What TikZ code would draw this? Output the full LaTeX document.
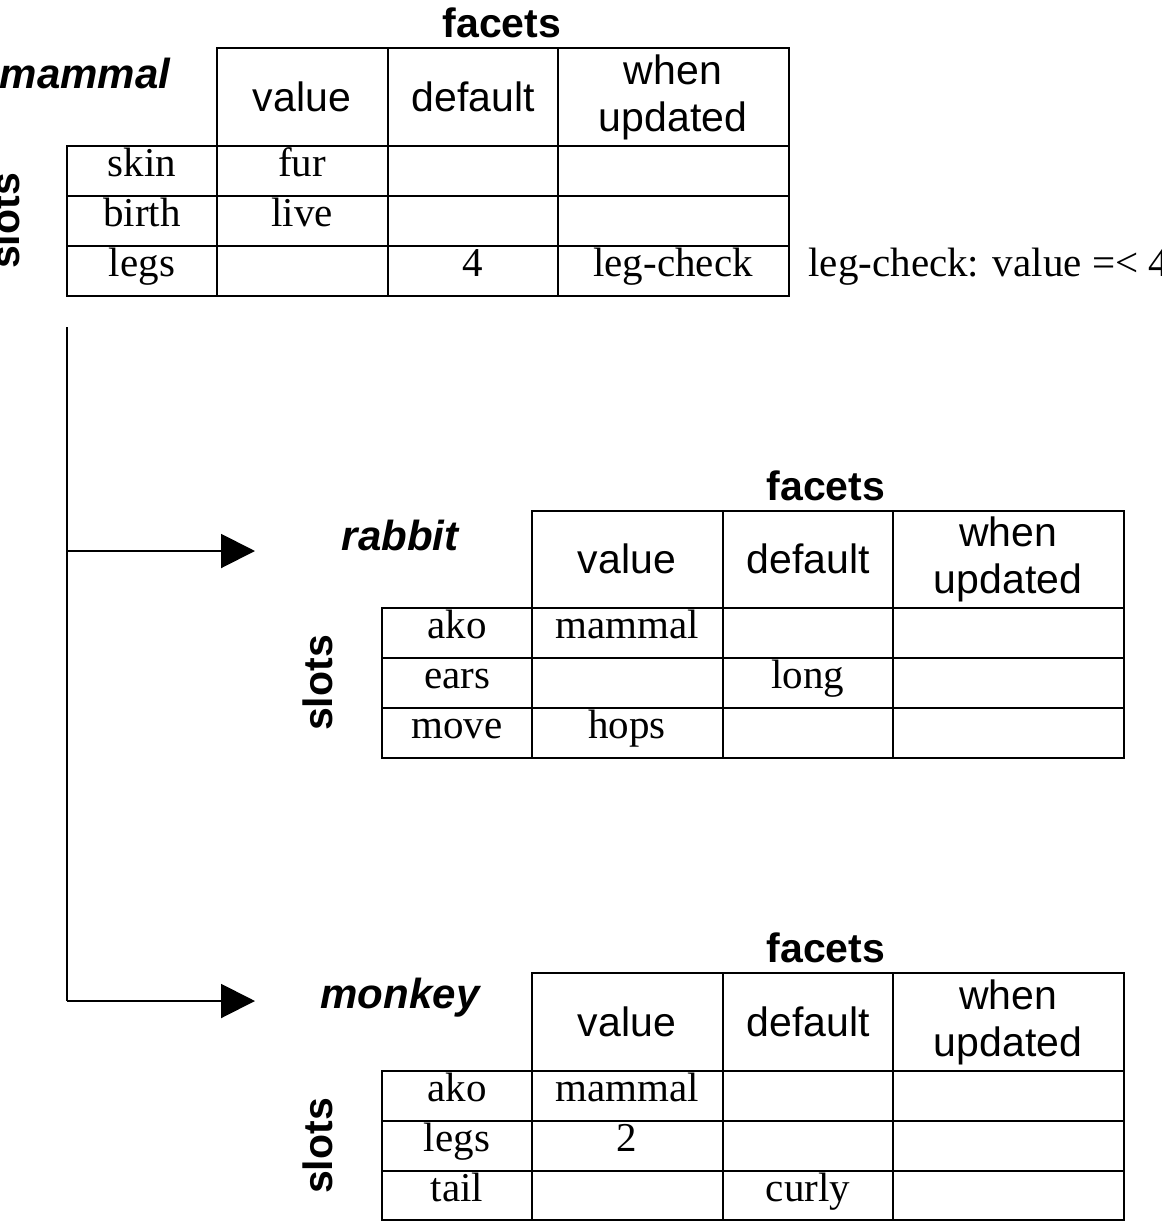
\documentclass[tikz,border=0pt]{standalone}
\usepackage{fontspec}
\setmainfont{Liberation Serif}
\setsansfont{Liberation Sans}
\usetikzlibrary{arrows.meta}
\tikzset{
  sf/.style={font=\sffamily\fontsize{41}{47}\selectfont, align=center},
  sfb/.style={font=\sffamily\bfseries\fontsize{41}{44}\selectfont},
  sfbi/.style={font=\sffamily\bfseries\itshape\fontsize{42}{44}\selectfont},
  rm/.style={font=\fontsize{41}{44}\selectfont, text height=24pt, text depth=13pt},
  grid/.style={line width=1.5pt},
  conn/.style={line width=2pt, -{Triangle[length=34pt,width=34pt]}},
  connl/.style={line width=2pt}
}
\begin{document}
\begin{tikzpicture}[x=1pt,y=-1pt]
\useasboundingbox (0,0) rectangle (1162,1221);
\clip (0,0) rectangle (1162,1221);
% ---------- mammal
\draw[grid] (217,48) rectangle (789,146);
\draw[grid] (388,48) -- (388,296) (558,48) -- (558,296);
\draw[grid] (67,146) rectangle (789,296);
\draw[grid] (217,146) -- (217,296);
\draw[grid] (67,196) -- (789,196) (67,246) -- (789,246);
\node[sfb] (mf) at (502,23) {facets};
\node[sfbi] (mn) at (85,73) {mammal};
\node[sfb,rotate=90] (ms) at (5,221) {slots};
\node[sf] at (302,97) {value};
\node[sf] at (473,97) {default};
\node[sf] at (673,97) {when\\updated};
\node[rm] at (142,171) {skin}; \node[rm] at (302,171) {fur};
\node[rm] at (142,221) {birth}; \node[rm] at (302,221) {live};
\node[rm] at (142,271) {legs}; \node[rm] at (473,271) {4}; \node[rm] at (673,271) {leg-check};
\node[rm,anchor=west] at (805,271) {leg-check: value =< 4};
% ---------- rabbit
\draw[grid] (532,511) rectangle (1124,608);
\draw[grid] (723,511) -- (723,758) (893,511) -- (893,758);
\draw[grid] (382,608) rectangle (1124,758);
\draw[grid] (532,608) -- (532,758);
\draw[grid] (382,658) -- (1124,658) (382,708) -- (1124,708);
\node[sfb] at (826,486) {facets};
\node[sfbi] (rn) at (400,535) {rabbit};
\node[sfb,rotate=90] at (318,683) {slots};
\node[sf] at (627,559) {value};
\node[sf] at (808,559) {default};
\node[sf] at (1008,559) {when\\updated};
\node[rm] at (457,633) {ako}; \node[rm] at (627,633) {mammal};
\node[rm] at (457,683) {ears}; \node[rm] at (808,683) {long};
\node[rm] at (457,733) {move}; \node[rm] at (627,733) {hops};
% ---------- monkey
\draw[grid] (532,973) rectangle (1124,1071);
\draw[grid] (723,973) -- (723,1220) (893,973) -- (893,1220);
\draw[grid] (382,1071) rectangle (1124,1220);
\draw[grid] (532,1071) -- (532,1220);
\draw[grid] (382,1121) -- (1124,1121) (382,1171) -- (1124,1171);
\node[sfb] at (826,948) {facets};
\node[sfbi] (kn) at (400,998) {monkey};
\node[sfb,rotate=90] at (318,1146) {slots};
\node[sf] at (627,1022) {value};
\node[sf] at (808,1022) {default};
\node[sf] at (1008,1022) {when\\updated};
\node[rm] at (457,1096) {ako}; \node[rm] at (627,1096) {mammal};
\node[rm] at (457,1146) {legs}; \node[rm] at (627,1146) {2};
\node[rm] at (457,1196) {tail}; \node[rm] at (808,1196) {curly};
% ---------- connectors
\coordinate (top) at (67,327);
\coordinate (j1) at (67,551);
\coordinate (j2) at (67,1001);
\coordinate (a1) at (255,551);
\coordinate (a2) at (255,1001);
\draw[connl] (top) -- (j2);
\draw[conn] (j1) -- (a1);
\draw[conn] (j2) -- (a2);
\end{tikzpicture}
\end{document}
